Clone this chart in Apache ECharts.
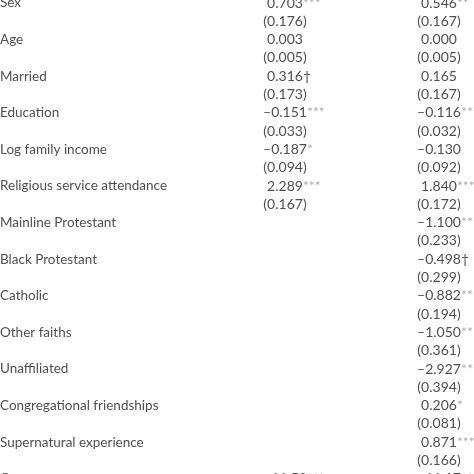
<!DOCTYPE html>
<html>
<head>
<meta charset="utf-8">
<script src="https://cdn.jsdelivr.net/npm/echarts@6/dist/echarts.min.js"></script>
<style>html,body{margin:0;background:#fff}</style>
</head>
<body>
<div id="main" style="width:474px;height:474px;"></div>
<script>
var variables = ['Sex', 'Age', 'Married', 'Education', 'Log family income', 'Religious service attendance',
  'Mainline Protestant', 'Black Protestant', 'Catholic', 'Other faiths', 'Unaffiliated',
  'Congregational friendships', 'Supernatural experience', 'Constant'];
var model1 = ['0.703', '0.003', '0.316', '–0.151', '–0.187', '2.289', null, null, null, null, null, null, null, '–11.52'];
var model1Sig = ['***', '', '†', '***', '*', '***', '', '', '', '', '', '', '', '***'];
var model1SE = ['0.176', '0.005', '0.173', '0.033', '0.094', '0.167', null, null, null, null, null, null, null, null];
var model2 = ['0.546', '0.000', '0.165', '–0.116', '–0.130', '1.840', '–1.100', '–0.498', '–0.882', '–1.050', '–2.927', '0.206', '0.871', '–11.17'];
var model2Sig = ['**', '', '', '***', '', '***', '***', '†', '***', '**', '***', '*', '***', '***'];
var model2SE = ['0.167', '0.005', '0.167', '0.032', '0.092', '0.172', '0.233', '0.299', '0.194', '0.361', '0.394', '0.081', '0.166', null];

var colX = [0, 285, 439];

function cell(num, sig) {
  var s = sig || '';
  if (s === '†') return '{h|†}' + num + '{d|†}';
  return '{h|' + s + '}' + num + '{g|' + s + '}';
}

var labels = [], coefs = [], ses = [];
variables.forEach(function (v, i) {
  labels.push({value: [colX[0], i * 2], txt: v});
  if (model1[i] !== null) coefs.push({value: [colX[1], i * 2], txt: cell(model1[i], model1Sig[i])});
  if (model2[i] !== null) coefs.push({value: [colX[2], i * 2], txt: cell(model2[i], model2Sig[i])});
  if (model1SE[i] !== null) ses.push({value: [colX[1], i * 2 + 1], txt: '(' + model1SE[i] + ')'});
  if (model2SE[i] !== null) ses.push({value: [colX[2], i * 2 + 1], txt: '(' + model2SE[i] + ')'});
});

var rich = {
  h: {color: 'transparent', fontFamily: 'Lato', fontSize: 14},
  g: {color: '#999', fontFamily: 'Lato', fontSize: 14},
  d: {color: '#222', fontFamily: 'Lato', fontSize: 14}
};

function series(data, align, size) {
  return {
    type: 'scatter', symbolSize: 0, data: data, silent: true, clip: false,
    label: {show: true, position: 'inside', align: align, verticalAlign: 'middle',
      fontFamily: 'Lato', fontSize: size, color: '#222',
      formatter: function (p) { return p.data.txt; }, rich: rich}
  };
}

var chart = echarts.init(document.getElementById('main'));
chart.setOption({
  animation: false,
  grid: {left: 0, right: 0, top: 3, bottom: 0},
  xAxis: {type: 'value', min: 0, max: 474, show: false},
  yAxis: {type: 'value', min: 0, max: 471 / 18.3, inverse: true, show: false},
  series: [series(labels, 'left', 13.5), series(coefs, 'center', 14), series(ses, 'center', 14)]
});
</script>
</body>
</html>
